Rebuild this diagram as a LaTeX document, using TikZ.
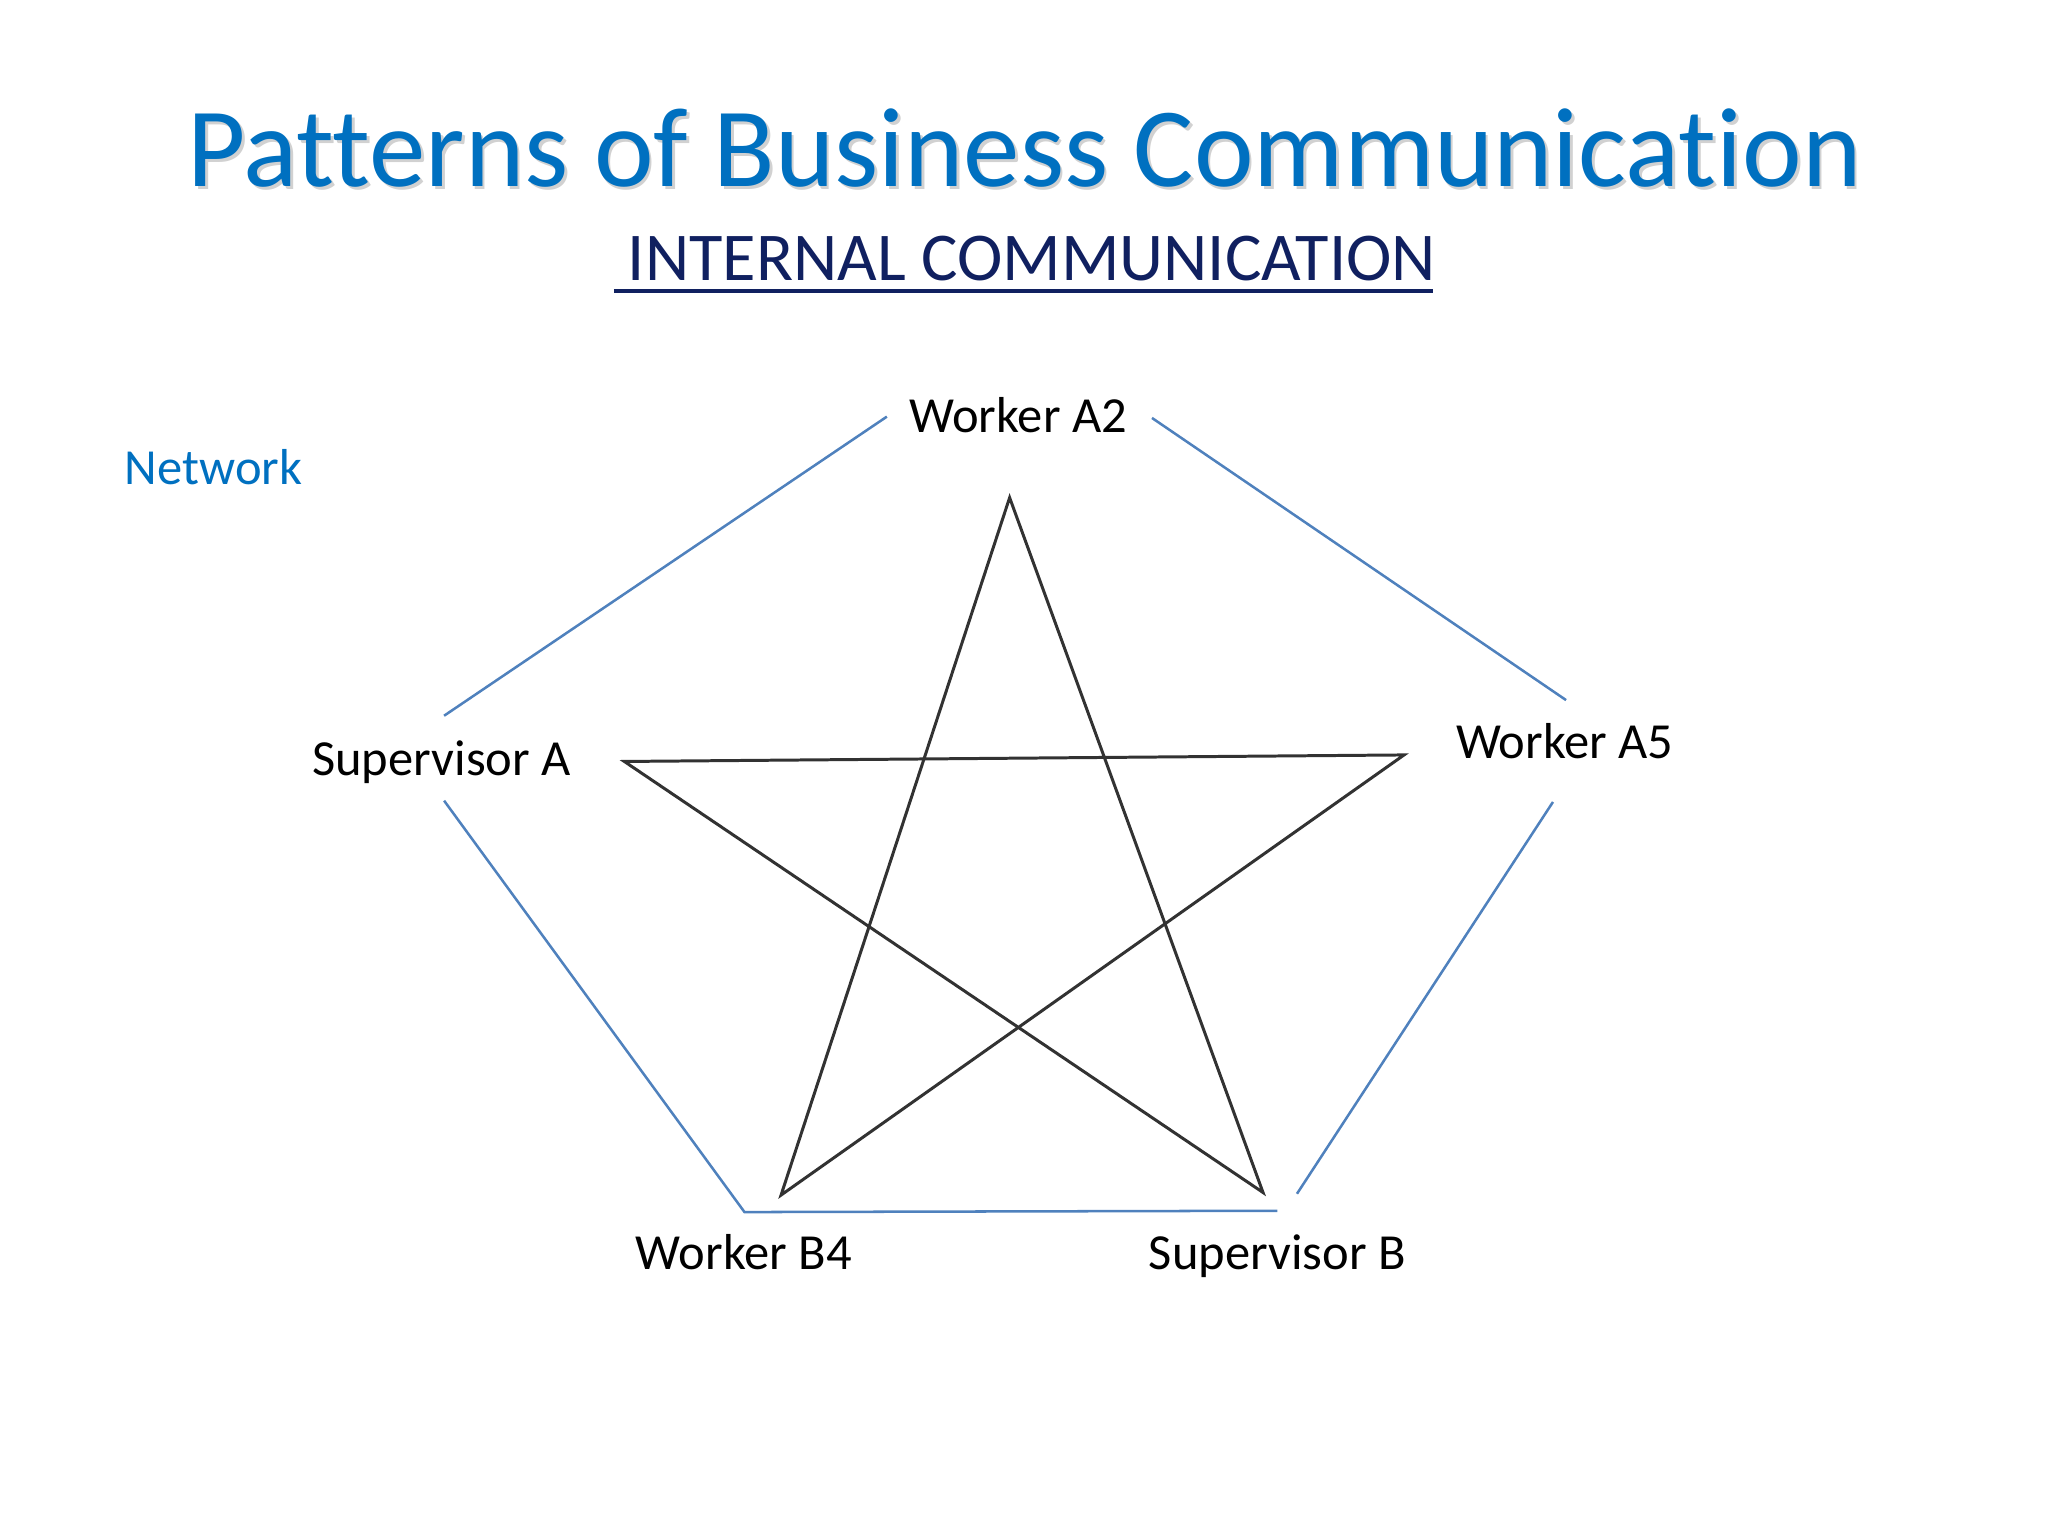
\documentclass[tikz,border=0pt]{standalone}
\usepackage{fontspec}
\setmainfont{Carlito}[Ligatures=NoCommon]
\usetikzlibrary{positioning}
\definecolor{titleblue}{RGB}{0,112,192}
\definecolor{subnavy}{RGB}{16,32,96}
\definecolor{edgeblue}{RGB}{79,129,189}
\definecolor{stargray}{RGB}{50,50,50}

\begin{document}
\begin{tikzpicture}[
  x=0.01cm, y=-0.01cm,
  lbl/.style={inner sep=0pt,anchor=base,font=\fontsize{11}{13}\selectfont},
  ttl/.style={inner sep=0pt,anchor=base,font=\fontsize{24.6}{29}\selectfont},
  edgeline/.style={draw=edgeblue,line width=0.55pt},
  starline/.style={draw=stargray,line width=0.65pt,line join=miter}
]
\useasboundingbox (0,0) rectangle (1568,1176);

% heading
\node[ttl,text=black!30,opacity=0.6] (shadow) at (786.5,145) {Patterns of Business Communication};
\node[ttl,text=titleblue] (title) at (784.5,143) {Patterns of Business Communication};
\node[inner sep=0pt,anchor=base,text=subnavy,font=\fontsize{14.9}{18}\selectfont] (sub) at (790,215) {INTERNAL COMMUNICATION};
\coordinate (ulL) at (470,222.5);
\coordinate (ulR) at (1097,222.5);
\draw[subnavy,line width=0.85pt] (ulL) -- (ulR);

\node[lbl,anchor=base west,text=titleblue] (net) at (95,371) {Network};

% the five members
\node[lbl] (wA2) at (779.5,331.5) {Worker A2};
\node[lbl] (supA) at (338,594) {Supervisor A};
\node[lbl] (wA5) at (1198,581) {Worker A5};
\node[lbl] (wB4) at (569.5,972) {Worker B4};
\node[lbl] (supB) at (978,972) {Supervisor B};

% outer ring
\coordinate (r1) at (679,319);
\coordinate (r2) at (340,548);
\coordinate (r3) at (882,320);
\coordinate (r4) at (1199,536);
\coordinate (r5) at (1189,614);
\coordinate (r6) at (993,914);
\coordinate (r7) at (340,613);
\coordinate (r8) at (570,928);
\coordinate (r9) at (978,927);
\draw[edgeline] (r1) -- (r2);
\draw[edgeline] (r3) -- (r4);
\draw[edgeline] (r5) -- (r6);
\draw[edgeline] (r7) -- (r8) -- (r9);

% star
\coordinate (sT) at (773,381);
\coordinate (sL) at (478,583);
\coordinate (sR) at (1075,578);
\coordinate (sBL) at (598,915);
\coordinate (sBR) at (967,913);
\draw[starline] (sT) -- (sBL) -- (sR) -- (sL) -- (sBR) -- cycle;
\end{tikzpicture}
\end{document}
